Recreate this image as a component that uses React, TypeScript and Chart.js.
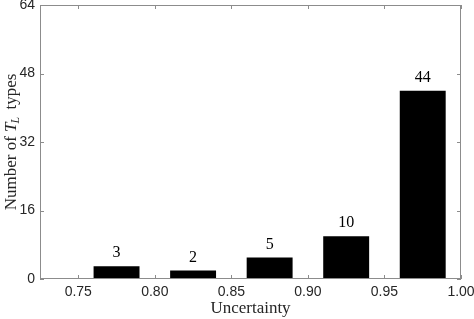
import React, { useEffect, useRef } from "react";
import { Chart, registerables } from "chart.js";

Chart.register(...registerables);

const binCenters = [0.775, 0.825, 0.875, 0.925, 0.975];
const counts = [3, 2, 5, 10, 44];
const xTicks = [0.75, 0.8, 0.85, 0.9, 0.95, 1.0];
const yTicks = [0, 16, 32, 48, 64];
const xTitle = "Uncertainty";
const yTitleParts = ["Number of ", "T", "L", " types"];

const AXIS_COLOR = "#8c8c8c";
const TEXT_COLOR = "#262626";
const SERIF = "'Liberation Serif', 'DejaVu Serif', serif";
const SANS = "'Liberation Sans', Arial, sans-serif";

const boxPlugin = {
  id: "boxPlugin",
  afterDraw(chart: any) {
    const { ctx, chartArea: a, scales } = chart;
    const xs = scales.x;
    const ys = scales.y;
    ctx.save();
    ctx.strokeStyle = AXIS_COLOR;
    ctx.lineWidth = 1;
    ctx.strokeRect(a.left + 0.5, a.top + 0.5, a.right - a.left - 1, a.bottom - a.top - 1);
    const tl = 4;
    ctx.beginPath();
    for (const t of xTicks) {
      const px = Math.round(xs.getPixelForValue(t)) + 0.5;
      ctx.moveTo(px, a.bottom);
      ctx.lineTo(px, a.bottom - tl);
      ctx.moveTo(px, a.top);
      ctx.lineTo(px, a.top + tl);
    }
    for (const t of yTicks) {
      const py = Math.round(ys.getPixelForValue(t)) + 0.5;
      ctx.moveTo(a.left, py);
      ctx.lineTo(a.left + tl, py);
      ctx.moveTo(a.right, py);
      ctx.lineTo(a.right - tl, py);
    }
    ctx.stroke();

    // value labels
    ctx.fillStyle = "#000";
    ctx.font = `16px ${SERIF}`;
    ctx.textAlign = "center";
    ctx.textBaseline = "middle";
    binCenters.forEach((c, i) => {
      const px = xs.getPixelForValue(c);
      const py = ys.getPixelForValue(counts[i]);
      ctx.fillText(String(counts[i]), px, py - 13);
    });

    // y title with italic T and subscript L
    const cy = (a.top + a.bottom) / 2;
    ctx.translate(10, cy);
    ctx.rotate(-Math.PI / 2);
    ctx.fillStyle = TEXT_COLOR;
    ctx.textBaseline = "alphabetic";
    ctx.textAlign = "left";
    const fMain = `17px ${SERIF}`;
    const fIt = `italic 17px ${SERIF}`;
    const fSub = `italic 12px ${SERIF}`;
    ctx.font = fMain;
    const w0 = ctx.measureText(yTitleParts[0]).width;
    ctx.font = fIt;
    const w1 = ctx.measureText(yTitleParts[1]).width;
    ctx.font = fSub;
    const w2 = ctx.measureText(yTitleParts[2]).width;
    ctx.font = fMain;
    const w3 = ctx.measureText(yTitleParts[3]).width;
    const total = w0 + w1 + w2 + 2 + w3;
    let x = -total / 2;
    const base = 6;
    ctx.font = fMain;
    ctx.fillText(yTitleParts[0], x, base);
    x += w0;
    ctx.font = fIt;
    ctx.fillText(yTitleParts[1], x, base);
    x += w1;
    ctx.font = fSub;
    ctx.fillText(yTitleParts[2], x - 1, base + 3);
    x += w2 + 2;
    ctx.font = fMain;
    ctx.fillText(yTitleParts[3], x, base);
    ctx.restore();
  },
};

export default function App() {
  const ref = useRef<HTMLCanvasElement | null>(null);
  useEffect(() => {
    if (!ref.current) return;
    const chart = new Chart(ref.current, {
      type: "bar",
      data: {
        datasets: [
          {
            data: binCenters.map((c, i) => ({ x: c, y: counts[i] })),
            backgroundColor: "#000",
            borderColor: "#000",
            borderWidth: 0,
            categoryPercentage: 1,
            barPercentage: 0.6,
          },
        ],
      },
      options: {
        animation: false,
        responsive: false,
        maintainAspectRatio: false,
        layout: { padding: { top: 5, right: 13, left: 0, bottom: 0 } },
        plugins: { legend: { display: false }, tooltip: { enabled: false } },
        scales: {
          x: {
            type: "linear",
            min: 0.725,
            max: 1.0,
            offset: false,
            afterBuildTicks: (s: any) => {
              s.ticks = xTicks.map((v) => ({ value: v }));
            },
            afterFit: (s: any) => {
              s.height = 40;
              s.paddingLeft = 0;
              s.paddingRight = 0;
            },
            grid: { display: false, drawTicks: false },
            border: { display: false },
            ticks: {
              padding: 5,
              color: TEXT_COLOR,
              font: { family: SANS, size: 14 },
              maxRotation: 0,
              autoSkip: false,
              callback: (v: any) => Number(v).toFixed(2),
            },
            title: {
              display: true,
              text: xTitle,
              color: TEXT_COLOR,
              font: { family: SERIF, size: 17 },
              padding: { top: 0, bottom: 0 },
            },
          },
          y: {
            type: "linear",
            min: 0,
            max: 64,
            afterBuildTicks: (s: any) => {
              s.ticks = yTicks.map((v) => ({ value: v }));
            },
            afterFit: (s: any) => {
              s.width = 40;
              s.paddingTop = 0;
              s.paddingBottom = 0;
            },
            grid: { display: false, drawTicks: false },
            border: { display: false },
            ticks: {
              padding: 5,
              color: TEXT_COLOR,
              font: { family: SANS, size: 14 },
              autoSkip: false,
            },
          },
        },
      },
      plugins: [boxPlugin],
    });
    return () => chart.destroy();
  }, []);
  return (
    <div style={{ position: "fixed", left: 0, top: 0, width: 474, height: 319, background: "#fff" }}>
      <canvas ref={ref} width={474} height={319} style={{ width: 474, height: 319 }} />
    </div>
  );
}
